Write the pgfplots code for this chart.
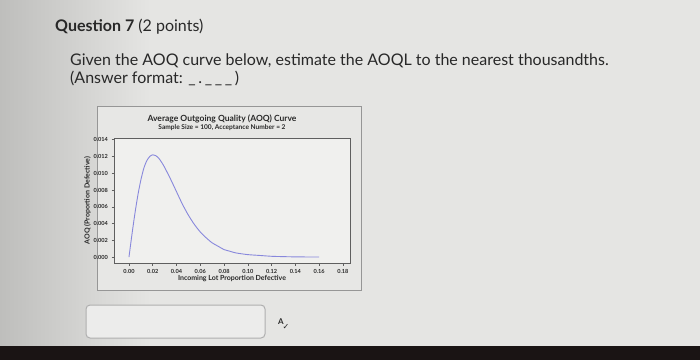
\documentclass[border=0pt]{standalone}
\usepackage{fontspec}
\setmainfont{Lato}
\newfontfamily\dejavu{DejaVu Sans}
\usepackage{pgfplots}
\pgfplotsset{compat=1.18}
\definecolor{pagebg}{RGB}{229,229,227}
\definecolor{pagedark}{RGB}{190,190,188}
\definecolor{stripdark}{RGB}{26,20,20}
\definecolor{panelbg}{RGB}{231,231,229}
\definecolor{panelborder}{RGB}{150,150,150}
\definecolor{plotbg}{RGB}{240,240,238}
\definecolor{framec}{RGB}{95,95,95}
\definecolor{curvec}{RGB}{136,136,220}
\definecolor{textc}{RGB}{40,40,40}
\definecolor{boxborder}{RGB}{175,175,175}
\definecolor{boxfill}{RGB}{236,236,235}

\pgfplotstableread{
p aoq
0.0000 0.00000
0.0025 0.00270
0.0050 0.00520
0.0075 0.00740
0.0100 0.00920
0.0125 0.01060
0.0150 0.01150
0.0175 0.01200
0.0200 0.01220
0.0225 0.01210
0.0250 0.01180
0.0275 0.01130
0.0300 0.01070
0.0350 0.00930
0.0400 0.00780
0.0450 0.00630
0.0500 0.00500
0.0550 0.00390
0.0600 0.00300
0.0650 0.00230
0.0700 0.00170
0.0750 0.00130
0.0800 0.00090
0.0850 0.00070
0.0900 0.00050
0.1000 0.00030
0.1100 0.00020
0.1200 0.00010
0.1300 0.00006
0.1400 0.00003
0.1500 0.00002
0.1600 0.00001
}\aoqdata

\begin{document}
\begin{tikzpicture}[x=1pt,y=1pt]
% page background
\fill[pagebg] (0,0) rectangle (700,360);
\shade[left color=pagedark, right color=pagebg] (0,14) rectangle (150,360);
\fill[stripdark] (0,0) rectangle (700,14);

% question text
\node[anchor=base west, inner sep=0, text=textc] at (55,329)
  {\fontsize{16}{19}\selectfont\textbf{Question 7} (2 points)};
\node[anchor=base west, inner sep=0, text=textc] at (70,295)
  {\fontsize{16}{19}\selectfont Given the AOQ curve below, estimate the AOQL to the nearest thousandths.};
\node[anchor=base west, inner sep=0, text=textc] at (70,277)
  {\fontsize{16}{19}\selectfont (Answer format: \_\,.\,\_\,\_\,\_\,)};

% chart panel
\draw[panelborder, fill=panelbg, line width=1pt] (97,70) rectangle (361,254);

\begin{axis}[
  at={(114pt,97pt)}, anchor=south west,
  scale only axis, width=236pt, height=125pt,
  xmin=-0.0126, xmax=0.186,
  ymin=-0.0007, ymax=0.0142,
  axis background/.style={fill=plotbg},
  axis line style={framec, line width=0.8pt},
  xtick={0,0.02,0.04,0.06,0.08,0.1,0.12,0.14,0.16,0.18},
  ytick={0,0.002,0.004,0.006,0.008,0.01,0.012,0.014},
  scaled ticks=false,
  xtick pos=bottom, ytick pos=left,
  tick align=outside,
  major tick length=2.5pt,
  tick style={framec, line width=0.5pt},
  /pgf/number format/assume math mode=true,
  tick label style={font=\fontsize{5.6}{6.5}\selectfont\bfseries, text=textc},
  xticklabel style={/pgf/number format/.cd, fixed, fixed zerofill, precision=2},
  yticklabel style={/pgf/number format/.cd, fixed, fixed zerofill, precision=3},
  xlabel={Incoming Lot Proportion Defective},
  ylabel={AOQ (Proportion Defective)},
  label style={font=\fontsize{7}{8}\selectfont\bfseries, text=textc},
  xlabel style={yshift=5pt},
  ylabel style={yshift=-4pt},
]
\addplot[curvec, line width=0.9pt, smooth, tension=0.4] table[x=p, y=aoq] {\aoqdata};
\end{axis}

% chart titles
\node[anchor=base, inner sep=0, text=textc] at (222,239)
  {\fontsize{8.5}{10}\selectfont\bfseries Average Outgoing Quality (AOQ) Curve};
\node[anchor=base, inner sep=0, text=textc] at (222,231)
  {\fontsize{6.6}{8}\selectfont\bfseries Sample Size = 100, Acceptance Number = 2};

% answer box
\draw[boxborder, fill=boxfill, line width=1pt, rounded corners=4pt] (86,22) rectangle (265,55);
\node[anchor=center, inner sep=0, text=textc] at (281,38)
  {\fontsize{8}{8}\selectfont\bfseries A};
\node[anchor=center, inner sep=0, text=textc] at (286,33)
  {\dejavu\fontsize{8}{8}\selectfont ✓};
\end{tikzpicture}
\end{document}
